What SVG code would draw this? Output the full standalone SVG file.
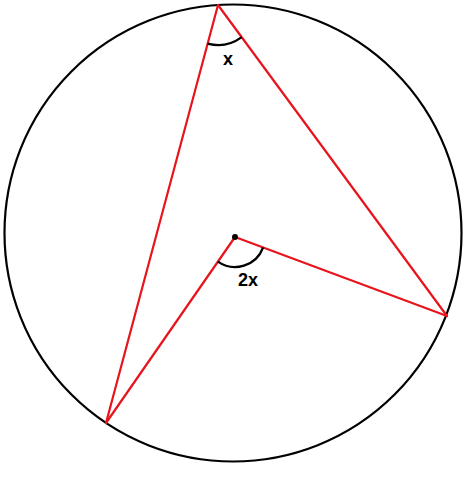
<svg xmlns="http://www.w3.org/2000/svg" width="474" height="477" viewBox="0 0 474 477">
<style>
.circ{fill:none;stroke:#000;stroke-width:2.2}
.red{fill:none;stroke:#e8141c;stroke-width:2.2;stroke-linecap:round}
.arc{fill:none;stroke:#000;stroke-width:2.2}
.lbl{font-family:"Liberation Sans",Arial,sans-serif;font-weight:bold;font-size:18px;fill:#000;text-anchor:middle}
</style>
<rect width="474" height="477" fill="#fff"/>
<g id="circle"><circle class="circ" cx="233" cy="233" r="228.5"/></g>
<g id="connectors">
<line class="red" x1="218" y1="5" x2="106" y2="423"/>
<line class="red" x1="218" y1="5" x2="447" y2="316"/>
<line class="red" x1="235" y1="237" x2="106" y2="423"/>
<line class="red" x1="235" y1="237" x2="447" y2="316"/>
</g>
<g id="angle-x">
<path class="arc" d="M207.6,43.6 A40,40 0 0 0 241.7,37.2"/>
<text class="lbl" x="228" y="65">x</text>
</g>
<g id="angle-2x">
<circle cx="235" cy="237" r="3" fill="#000"/>
<path class="arc" d="M217.9,261.7 A30,30 0 0 0 263.1,247.5"/>
<text class="lbl" x="248" y="286">2x</text>
</g>
</svg>
